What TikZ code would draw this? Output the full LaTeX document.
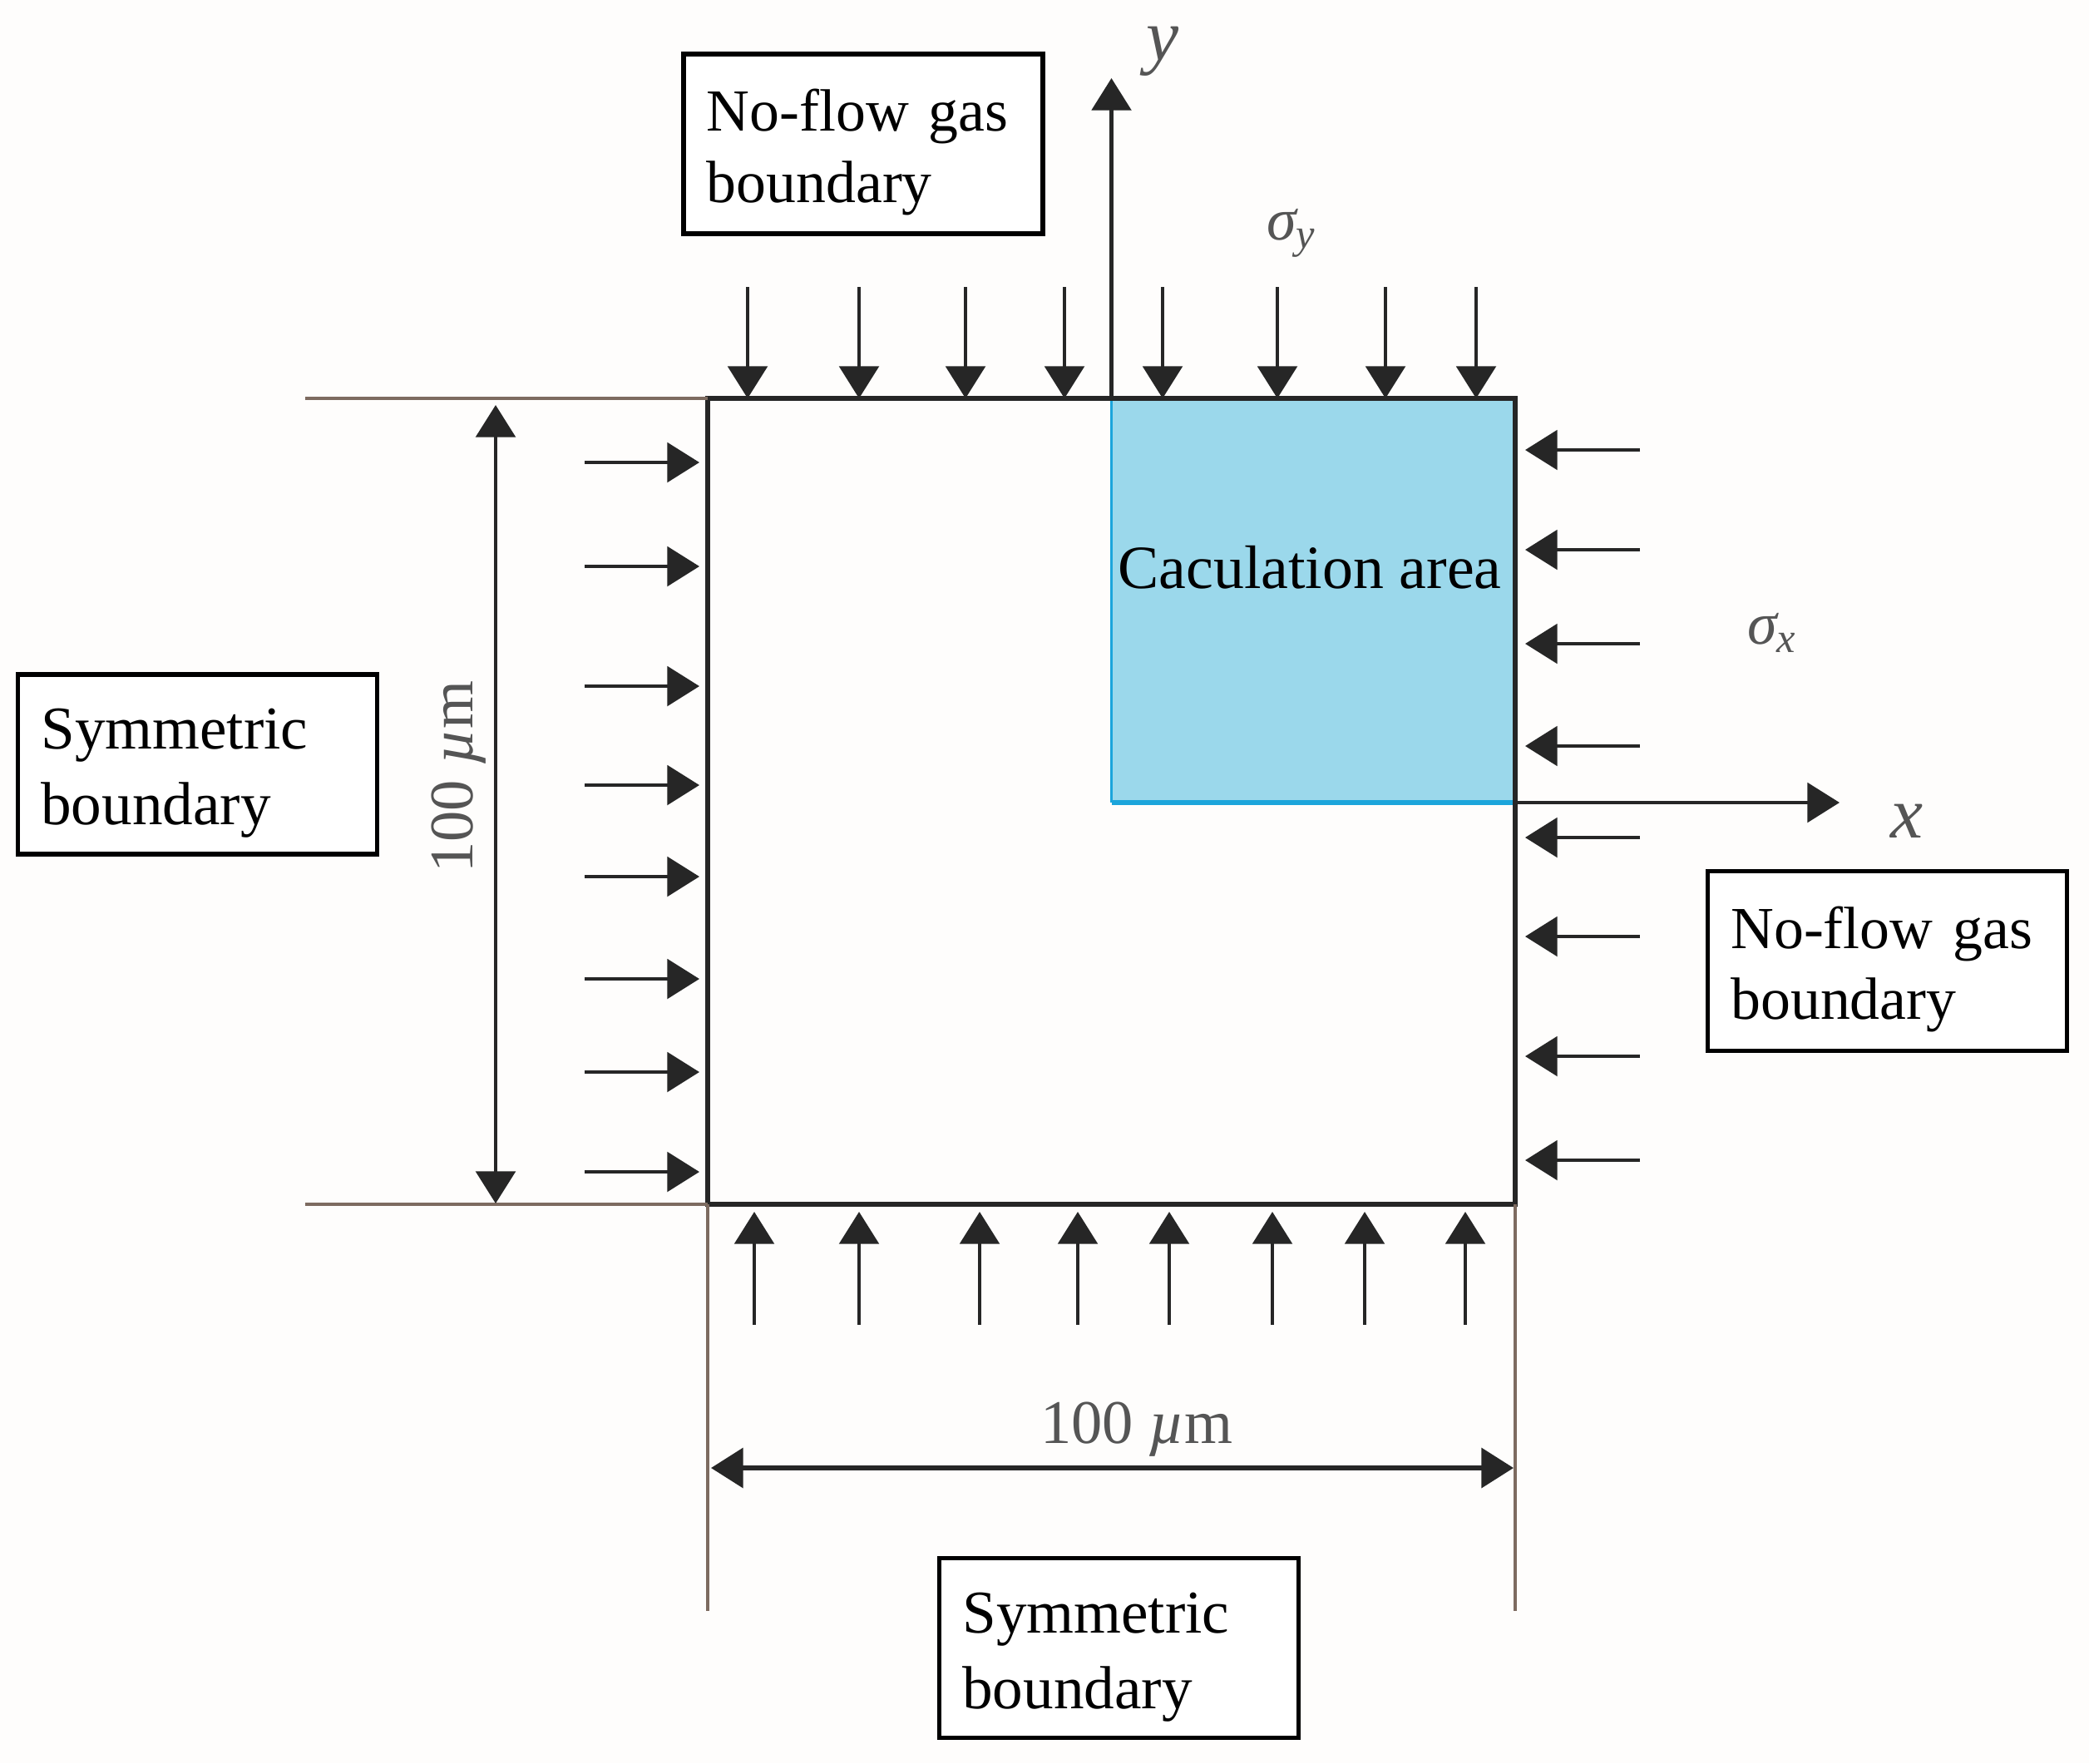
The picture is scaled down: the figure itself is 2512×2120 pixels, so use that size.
\documentclass[tikz,border=0pt]{standalone}
\usepackage{fontspec}
\setmainfont{Liberation Serif}
\usetikzlibrary{arrows.meta}
\definecolor{areablue}{HTML}{9BD8EB}
\definecolor{areaedge}{HTML}{1CA5DB}
\definecolor{extbrown}{HTML}{7D6B60}
\definecolor{dimgrey}{HTML}{555555}
\definecolor{inkdark}{HTML}{262626}
\definecolor{paper}{HTML}{FEFDFC}
\newcommand{\boxstrut}{\rule{0pt}{0.7cm}}
\tikzset{
  tiph/.tip={Triangle[length=11pt,width=13.5pt]},
  load/.style={draw=inkdark,line width=1.2pt,-tiph},
  ext/.style={draw=extbrown,line width=0.9pt},
  exth/.style={draw=extbrown,line width=1.2pt},
  bc/.style={draw=black,line width=1.6pt,fill=white,align=left,inner xsep=0.28cm,
    inner ysep=0pt,text width=3.76cm,minimum height=2.16cm,
    font=\fontsize{20.4}{24.3}\selectfont},
  sym/.style={bc,font=\fontsize{20.8}{25.9}\selectfont},
  dimtext/.style={text=dimgrey,inner sep=0pt,font=\fontsize{21.2}{24}\selectfont},
  sigtext/.style={text=dimgrey,inner sep=0pt,font=\fontsize{20.5}{24}\selectfont},
  axlabel/.style={text=dimgrey,inner sep=0pt,font=\fontsize{25}{28}\selectfont\itshape},
}
\begin{document}
\begin{tikzpicture}[x=0.01cm,y=-0.01cm]
  \fill[paper] (0,0) rectangle (2512,2120);
  \useasboundingbox (0,0) rectangle (2512,2120);

  % calculation quarter
  \fill[areablue] (1336.5,479) rectangle (1822,965);
  \coordinate (o) at (1336.5,965);
  \coordinate (ytop) at (1336.5,94);
  \coordinate (xtip) at (2212,965);
  \coordinate (ysq) at (1336.5,479);
  \coordinate (xsq) at (1822,965);
  \draw[areaedge,line width=0.8pt] (o) -- (ysq);
  \draw[areaedge,line width=1.5pt] (o) -- (xsq);

  % square
  \node[draw=inkdark,line width=1.6pt,minimum width=9.71cm,minimum height=9.69cm,inner sep=0pt] (sq) at (1336.5,963.5) {};

  % axes
  \draw[load] (ysq) -- (ytop);
  \draw[load] (xsq) -- (xtip);
  \node[axlabel,anchor=base] (ylab) at (1398,72) {y};
  \node[axlabel,anchor=base] (xlab) at (2293,1007) {x};

  % loads
  \foreach \x [count=\i] in {899,1033,1161,1280,1398,1536,1666,1775} {
    \coordinate (ta\i) at (\x,345);
    \coordinate (tb\i) at (\x,479);
    \draw[load] (ta\i) -- (tb\i);
  }
  \foreach \x [count=\i] in {907,1033,1178,1296,1406,1530,1641,1762} {
    \coordinate (ba\i) at (\x,1593);
    \coordinate (bb\i) at (\x,1457);
    \draw[load] (ba\i) -- (bb\i);
  }
  \foreach \y [count=\i] in {556,681,825,944,1054,1177,1289,1409} {
    \coordinate (la\i) at (703,\y);
    \coordinate (lb\i) at (841,\y);
    \draw[load] (la\i) -- (lb\i);
  }
  \foreach \y [count=\i] in {541,661,774,897,1007,1126,1270,1395} {
    \coordinate (ra\i) at (1972,\y);
    \coordinate (rb\i) at (1834,\y);
    \draw[load] (ra\i) -- (rb\i);
  }

  % extension lines and dimensions
  \coordinate (e1) at (367,479);
  \coordinate (e2) at (851,479);
  \coordinate (e3) at (367,1448);
  \coordinate (e4) at (851,1448);
  \coordinate (e5) at (851,1448);
  \coordinate (e6) at (851,1937);
  \coordinate (e7) at (1822,1448);
  \coordinate (e8) at (1822,1937);
  \draw[exth] (e1) -- (e2);
  \draw[exth] (e3) -- (e4);
  \draw[ext] (e5) -- (e6);
  \draw[ext] (e7) -- (e8);
  \coordinate (dv1) at (596,487);
  \coordinate (dv2) at (596,1447);
  \coordinate (dh1) at (855,1765);
  \coordinate (dh2) at (1820,1765);
  \draw[draw=inkdark,line width=1.3pt,tiph-tiph] (dv1) -- (dv2);
  \draw[draw=inkdark,line width=1.6pt,tiph-tiph] (dh1) -- (dh2);
  \node[dimtext,anchor=base,rotate=90] (dimv) at (568,934) {100 \textit{µ}m};
  \node[dimtext,anchor=base] (dimh) at (1367,1735) {100 \textit{µ}m};

  % stress labels
  \node[sigtext,anchor=base] (sy) at (1553,288) {\textit{σ\textsubscript{y}}};
  \node[sigtext,anchor=base] (sx) at (2131,774) {\textit{σ\textsubscript{x}}};

  % boxes
  \node[bc] (nf1) at (1038,173) {\boxstrut No-flow gas\\boundary};
  \node[bc] (nf2) at (2269.5,1155.5) {\boxstrut No-flow gas\\boundary};
  \node[sym] (sb1) at (237.5,919) {\boxstrut Symmetric\\boundary};
  \node[sym] (sb2) at (1345.5,1981.5) {\boxstrut Symmetric\\boundary};

  \node[inner sep=0pt,anchor=base,font=\fontsize{21}{24}\selectfont] (area) at (1575,707) {Caculation area};
\end{tikzpicture}
\end{document}
